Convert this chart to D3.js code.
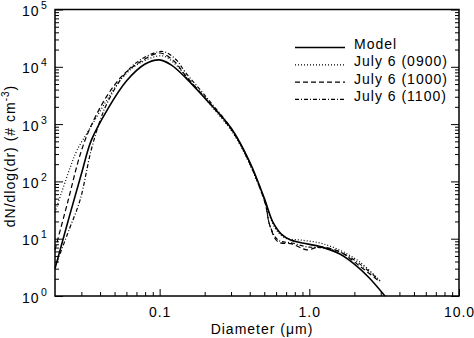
<!DOCTYPE html>
<html>
<head>
<meta charset="utf-8">
<script src="https://cdn.jsdelivr.net/npm/d3@7"></script>
<style>
  body { margin: 0; background: #fff; }
  text { font-family: "Liberation Sans", Arial, sans-serif; fill: #000; }
</style>
</head>
<body>
<div id="chart-area"></div>
<script>
// values: diameter (um) and dN/dlog(dr) (# cm^-3)
const modelD = [0.02, 0.025, 0.03, 0.035, 0.045, 0.06, 0.08, 0.1, 0.12, 0.15, 0.2, 0.3, 0.4, 0.5, 0.57, 0.65, 0.75, 0.9, 1.2, 1.6, 2.0, 2.5, 3.2];
const modelN = [3, 25, 135, 525, 1830, 5650, 11200, 13200, 10700, 6360, 2860, 855, 218, 51, 19.6, 12, 9.5, 8.4, 7.2, 5.4, 3.6, 2.1, 1.0];

const obs0900D = [0.02, 0.0252, 0.0281, 0.0343, 0.0445, 0.0569, 0.0739, 0.105, 0.13, 0.148, 0.207, 0.309, 0.402, 0.506, 0.59, 0.689, 0.867, 1.18, 1.6, 2.18, 2.97];
const obs0900N = [29, 171, 353, 850, 2640, 6640, 11650, 15500, 10500, 7000, 2530, 700, 193, 44, 15.4, 10.3, 9.5, 8.4, 6.3, 3.9, 1.83];

const obs1000D = [0.02, 0.0244, 0.0294, 0.0343, 0.0445, 0.0569, 0.0739, 0.1005, 0.125, 0.148, 0.207, 0.309, 0.402, 0.506, 0.546, 0.618, 0.766, 0.964, 1.18, 1.6, 2.18, 2.97];
const obs1000N = [6.4, 45, 289, 855, 3100, 7190, 12100, 17400, 12500, 7190, 2640, 728, 201, 42, 16.7, 8.8, 8.1, 6.4, 7.2, 5.9, 3.3, 1.75];

const obs1100D = [0.0206, 0.025, 0.0294, 0.0349, 0.04, 0.0445, 0.0569, 0.0739, 0.105, 0.13, 0.148, 0.207, 0.309, 0.402, 0.506, 0.546, 0.618, 0.766, 0.964, 1.18, 1.6, 2.18, 2.97];
const obs1100N = [3.9, 15, 47, 353, 1150, 2300, 6800, 13100, 18500, 13000, 8110, 2870, 758, 201, 44, 16.7, 9.5, 8.4, 7.2, 7.0, 5.9, 3.6, 1.83];

const legendLabels = ["Model", "July 6 (0900)", "July 6 (1000)", "July 6 (1100)"];
const xTicks = [0.1, 1, 10];
const yTicks = [1, 10, 100, 1000, 10000, 100000];

const margin = { left: 55, right: 15, top: 9.5, bottom: 42 };
const width = 474 - margin.left - margin.right,
    height = 338 - margin.top - margin.bottom;

const svg = d3.select("#chart-area")
    .append("svg")
    .attr("width", width + margin.left + margin.right)
    .attr("height", height + margin.top + margin.bottom);

const g = svg.append("g")
    .attr("transform", "translate(" + margin.left + ", " + margin.top + ")");

const x = d3.scaleLog().domain([0.02, 10]).range([0, width]);
const y = d3.scaleLog().domain([1, 1e5]).range([height, 0]);

// minor ticks 2..9 of each decade inside the domain
function minors(lo, hi) {
    const out = [];
    for (let e = -3; e <= 5; e++) {
        for (let k = 2; k <= 9; k++) {
            const v = k * Math.pow(10, e);
            if (v > lo * 1.0001 && v < hi * 0.9999) out.push(v);
        }
    }
    return out;
}

// x axis (ticks point inward)
g.append("g")
    .attr("class", "x axis")
    .attr("transform", "translate(0, " + height + ")")
    .call(d3.axisBottom(x).tickValues(xTicks).tickSizeInner(-7).tickSizeOuter(0)
        .tickPadding(11).tickFormat(d3.format(".1f")))
    .selectAll("text")
        .attr("font-size", "14px")
        .attr("letter-spacing", "1px");

g.append("g")
    .attr("transform", "translate(0, " + height + ")")
    .call(d3.axisBottom(x).tickValues(minors(0.02, 10)).tickSizeInner(-4).tickSizeOuter(0).tickFormat(""));

// y axis left + right
g.append("g")
    .attr("class", "y axis")
    .call(d3.axisLeft(y).tickValues(yTicks).tickSizeInner(-8).tickSizeOuter(0).tickFormat(""));
g.append("g")
    .call(d3.axisLeft(y).tickValues(minors(1, 1e5)).tickSizeInner(-4).tickSizeOuter(0).tickFormat(""));
g.append("g")
    .attr("transform", "translate(" + width + ", 0)")
    .call(d3.axisRight(y).tickValues(yTicks).tickSizeInner(-8).tickSizeOuter(0).tickFormat(""));
g.append("g")
    .attr("transform", "translate(" + width + ", 0)")
    .call(d3.axisRight(y).tickValues(minors(1, 1e5)).tickSizeInner(-4).tickSizeOuter(0).tickFormat(""));

g.selectAll(".domain").remove();
g.selectAll(".tick line").attr("stroke", "#000").attr("stroke-width", 1);

// y tick labels as 10 with superscript
yTicks.forEach(function(v) {
    const e = Math.round(Math.log10(v));
    g.append("text")
        .attr("x", -15.5)
        .attr("y", y(v) + 6.5)
        .attr("text-anchor", "end")
        .attr("font-size", "14px")
        .attr("letter-spacing", "1px")
        .text("10");
    g.append("text")
        .attr("x", -14)
        .attr("y", y(v) - 0.5)
        .attr("font-size", "10.5px")
        .text(e);
});

// frame
g.append("rect")
    .attr("width", width)
    .attr("height", height)
    .attr("fill", "none")
    .attr("stroke", "#000")
    .attr("stroke-width", 1.5);

// curves
const line = d3.line()
    .x(function(d) { return x(d[0]); })
    .y(function(d) { return y(d[1]); })
    .curve(d3.curveCatmullRom.alpha(0.5));

const series = [
    { d: modelD, n: modelN, dash: null, w: 1.6 },
    { d: obs0900D, n: obs0900N, dash: "1,2", w: 1.2 },
    { d: obs1000D, n: obs1000N, dash: "5,3", w: 1.2 },
    { d: obs1100D, n: obs1100N, dash: "4,2,1,2", w: 1.2 }
];

series.forEach(function(s) {
    g.append("path")
        .datum(d3.zip(s.d, s.n))
        .attr("d", line)
        .attr("fill", "none")
        .attr("stroke", "#000")
        .attr("stroke-width", s.w)
        .attr("stroke-dasharray", s.dash);
});

// legend
series.forEach(function(s, i) {
    const ly = 49 + i * 17.3 - margin.top;
    g.append("line")
        .attr("x1", 295 - margin.left)
        .attr("x2", 345 - margin.left)
        .attr("y1", ly - 1.5)
        .attr("y2", ly - 1.5)
        .attr("stroke", "#000")
        .attr("stroke-width", s.w)
        .attr("stroke-dasharray", s.dash);
    g.append("text")
        .attr("x", 354 - margin.left)
        .attr("y", ly)
        .attr("font-size", "14px")
        .attr("letter-spacing", "1px")
        .text(legendLabels[i]);
});

// X Label
g.append("text")
    .attr("x", width / 2 + 5)
    .attr("y", height + 38)
    .attr("font-size", "14px")
    .attr("letter-spacing", "1px")
    .attr("text-anchor", "middle")
    .text("Diameter (\u03bcm)");

// Y Label
const yl = g.append("text")
    .attr("x", -(156 - margin.top))
    .attr("y", 15 - margin.left)
    .attr("font-size", "14px")
    .attr("letter-spacing", "1px")
    .attr("text-anchor", "middle")
    .attr("transform", "rotate(-90)");
yl.append("tspan").text("dN/dlog(dr)  (# cm");
yl.append("tspan").attr("font-size", "10px").attr("dy", -6).text("-3");
yl.append("tspan").attr("dy", 6).text(")");
</script>
</body>
</html>
